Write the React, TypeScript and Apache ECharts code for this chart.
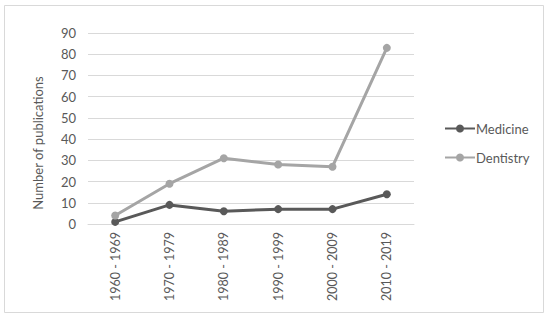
import React, { useEffect, useRef } from "react";
import * as echarts from "echarts";

const categories = ["1960 - 1969", "1970 - 1979", "1980 - 1989", "1990 - 1999", "2000 - 2009", "2010 - 2019"];
const medicine = [1, 9, 6, 7, 7, 14];
const dentistry = [4, 19, 31, 28, 27, 83];
const yAxisName = "Number of publications";

export default function App() {
  const ref = useRef<HTMLDivElement>(null);
  useEffect(() => {
    const chart = echarts.init(ref.current!, null, { renderer: "svg" });
    const font = "Lato, 'Open Sans', sans-serif";
    chart.setOption({
      animation: false,
      backgroundColor: "#ffffff",
      textStyle: { fontFamily: font },
      graphic: [
        {
          type: "rect",
          shape: { x: 4.5, y: 5.5, width: 539, height: 307 },
          style: { fill: "none", stroke: "#d9d9d9", lineWidth: 1 },
          silent: true,
        },
        {
          type: "text",
          x: 38,
          y: 143,
          rotation: Math.PI / 2,
          style: {
            text: yAxisName,
            fill: "#595959",
            fontSize: 13,
            fontFamily: font,
            align: "center",
            verticalAlign: "middle",
          },
          silent: true,
        },
      ],
      grid: { left: 88, right: 136, top: 33, bottom: 95 },
      legend: {
        orient: "vertical",
        left: 439,
        top: 117,
        itemWidth: 30,
        itemHeight: 10,
        itemGap: 16,
        textStyle: { fontFamily: font, fontSize: 13, color: "#595959", padding: [0, 0, 0, -4] },
        data: ["Medicine", "Dentistry"],
      },
      xAxis: {
        type: "category",
        data: categories,
        boundaryGap: true,
        axisLine: { lineStyle: { color: "#d9d9d9" } },
        axisTick: { show: false },
        axisLabel: { rotate: 90, color: "#595959", fontSize: 12.5, fontFamily: font, margin: 8 },
      },
      yAxis: {
        type: "value",
        min: 0,
        max: 90,
        interval: 10,
        axisLine: { show: false },
        axisTick: { show: false },
        axisLabel: { color: "#595959", fontSize: 13, fontFamily: font, margin: 12 },
        splitLine: { lineStyle: { color: "#d9d9d9", width: 1 } },
      },
      series: [
        {
          name: "Medicine",
          type: "line",
          data: medicine,
          color: "#595959",
          lineStyle: { width: 3, color: "#595959" },
          symbol: "circle",
          symbolSize: 8,
          itemStyle: { color: "#595959" },
        },
        {
          name: "Dentistry",
          type: "line",
          data: dentistry,
          color: "#a5a5a5",
          lineStyle: { width: 3, color: "#a5a5a5" },
          symbol: "circle",
          symbolSize: 8,
          itemStyle: { color: "#a5a5a5" },
        },
      ],
    });
    return () => chart.dispose();
  }, []);
  return <div ref={ref} style={{ position: "fixed", left: 0, top: 0, width: 550, height: 319 }} />;
}
